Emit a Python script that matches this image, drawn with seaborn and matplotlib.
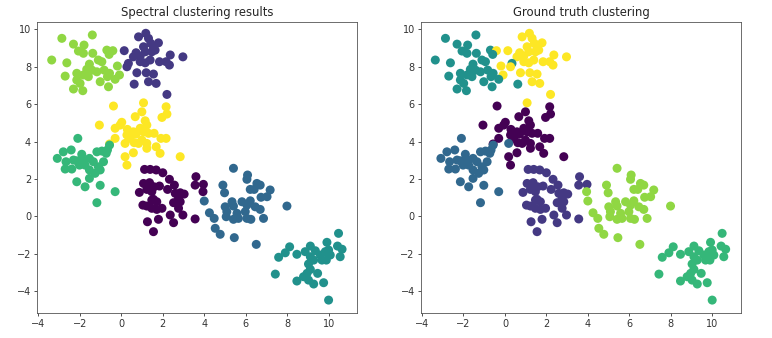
import matplotlib
matplotlib.use("Agg")
import matplotlib.pyplot as plt
import seaborn as sns
import pandas as pd
import numpy as np

# ---- data ----
# cluster found at top-left
c_tl_x = [-2.87,-1.40,-2.31,-1.80,-2.07,-1.83,-1.38,-0.70,-0.41,-0.59,-3.36,-2.63,-1.54,-1.11,-0.94,-0.19,-1.67,
          -1.42,-2.15,-1.83,-1.18,-0.83,-0.57,-0.09,-2.71,-2.15,-1.59,-1.02,-0.67,-0.30,-2.31,-1.86,-0.62,-1.99]
c_tl_y = [9.52,9.70,9.21,9.16,8.84,8.72,8.72,8.89,8.86,8.66,8.36,8.21,8.14,8.36,8.27,8.04,7.86,
          7.82,7.65,7.56,7.73,7.82,7.65,7.56,7.50,7.29,7.47,7.20,7.47,7.33,6.81,6.72,6.93,7.11]
c_tl_true = [3,3,3,3,3,3,3,3,6,3,3,3,3,3,3,6,3,3,3,3,3,3,3,6,3,3,3,3,3,3,3,3,3,3]

# cluster at top-centre
c_tc_x = [0.83,1.18,1.31,1.79,1.42,1.07,1.55,0.14,0.71,0.58,0.91,1.15,1.47,1.63,2.36,2.97,0.34,0.27,0.91,1.15,
          1.39,1.84,2.16,2.32,0.75,1.20,1.55,0.62,1.31,1.68,2.20]
c_tc_y = [9.60,9.79,9.52,9.28,9.25,9.07,8.98,8.86,8.75,8.53,8.57,8.80,8.80,8.89,8.63,8.53,8.18,8.00,8.27,8.21,
          8.36,8.27,8.27,8.09,7.68,7.68,7.61,7.07,7.20,7.11,6.52]
c_tc_true = [6,6,6,6,6,6,6,6,6,6,6,6,6,6,6,6,3,6,6,6,6,6,6,6,6,6,6,3,6,6,6]

# cluster in the middle
c_md_x = [-0.38,1.07,2.16,0.99,2.20,1.96,0.67,0.02,-0.06,-1.06,1.15,1.23,0.91,0.29,-0.30,0.58,0.71,1.07,1.31,
          1.58,0.27,0.42,0.18,-0.30,-0.57,0.99,1.23,0.62,0.83,1.23,1.68,1.91,2.16,0.58,1.87,0.18,0.27,2.84]
c_md_y = [5.90,6.07,5.86,5.59,5.47,5.29,5.33,5.03,4.88,4.88,5.11,4.88,4.71,4.65,4.71,4.52,4.40,4.52,4.44,
          4.44,4.35,4.17,3.90,4.17,3.87,4.08,3.90,3.94,3.90,3.64,3.72,4.17,4.17,3.40,3.37,3.19,2.74,3.19]
c_md_true = [0,6,0,0,0,0,0,0,0,0,0,0,0,0,0,0,0,0,0,0,0,0,2,0,0,0,0,0,0,0,0,0,0,0,0,0,0,0]

# cluster at left
c_lf_x = [-3.09,-2.80,-2.42,-2.10,-2.67,-2.71,-2.39,-2.15,-2.02,-1.91,-1.83,-1.75,-1.54,-1.54,-1.35,-1.18,
          -1.11,-1.02,-0.94,-0.73,-0.67,-0.57,-0.86,-1.54,-2.15,-1.75,-1.02,-0.30,-1.18,-2.31,-1.27]
c_lf_y = [3.10,3.45,3.55,4.17,2.92,2.53,2.53,2.97,2.74,3.32,3.01,2.74,3.10,2.48,2.92,3.45,
          2.65,2.48,3.49,3.37,3.55,3.81,2.92,2.03,1.85,1.58,1.66,1.32,0.73,3.01,2.30]
c_lf_true = [2]*0 + [2,2,2,2,2,2,2,2,2,2,2,2,2,2,2,2,2,2,2,2,2,2,2,2,2,2,2,2,2,2,2]

# cluster at bottom-centre
c_bc_x = [1.12,1.39,1.68,2.00,2.32,2.56,1.07,1.36,1.58,1.84,2.23,0.87,1.23,1.47,2.60,2.84,3.03,2.76,1.55,1.71,
          1.47,2.52,2.84,1.04,1.23,1.47,1.71,1.96,2.76,2.36,2.97,1.26,1.79,2.52,1.55,3.60,3.56,3.96,3.56,3.94]
c_bc_y = [2.51,2.51,2.48,2.33,1.98,1.67,1.76,1.80,1.58,1.62,1.44,1.28,1.44,1.32,1.23,1.26,1.19,0.96,0.91,0.78,
          0.87,0.73,0.78,0.60,0.55,0.43,0.37,0.43,0.43,0.07,0.07,-0.29,-0.16,-0.34,-0.82,2.12,1.67,1.71,-0.14,1.32]
c_bc_true = [1,1,1,1,1,1,1,1,1,1,1,1,1,1,1,1,1,1,1,1,1,1,1,1,1,1,1,1,1,1,1,1,1,1,1,1,1,1,1,5]

# cluster at right-middle
c_rm_x = [5.41,6.09,6.06,6.54,6.70,4.90,6.22,6.41,7.18,4.98,7.03,6.74,4.00,5.34,5.82,6.22,5.01,5.41,6.06,
          6.46,6.70,7.99,4.25,5.09,5.58,5.98,4.48,5.06,5.41,5.65,6.06,6.25,6.86,4.53,4.77,5.45,6.51]
c_rm_y = [2.57,2.21,1.98,1.76,1.67,1.67,1.44,1.44,1.41,1.26,1.05,1.02,0.82,0.78,0.78,0.83,0.51,0.55,0.60,
          0.51,0.37,0.55,0.19,0.25,0.16,0.25,-0.11,-0.02,-0.16,-0.11,-0.11,-0.16,-0.11,-0.64,-0.96,-1.14,-1.50]
c_rm_true = [5,5,5,5,5,5,5,5,5,5,5,5,5,5,5,5,5,5,5,5,5,5,5,5,5,5,5,5,5,5,5,5,5,5,5,5,5]

# cluster at bottom-right
c_br_x = [10.48,9.92,8.12,7.91,7.59,8.47,8.87,9.12,9.36,9.60,9.12,9.28,9.84,10.00,10.43,10.65,10.56,9.68,9.89,
          10.08,9.03,9.12,8.96,8.79,9.03,9.28,9.47,9.76,8.47,7.43,10.00]
c_br_y = [-0.91,-1.39,-1.63,-1.95,-2.19,-2.03,-1.89,-1.59,-1.84,-2.07,-2.16,-2.34,-1.89,-1.80,-1.59,-1.76,-2.16,
          -2.34,-2.34,-2.07,-2.55,-2.84,-3.05,-3.23,-3.41,-3.62,-3.05,-3.55,-3.46,-3.09,-4.48]
c_br_true = [4,4,4,4,4,4,4,4,4,4,4,4,4,4,4,4,4,4,4,4,4,4,4,4,4,4,4,4,4,4,4]

# spectral label assigned to each found cluster
spectral_ids = {"tl": 5, "tc": 1, "md": 6, "lf": 4, "bc": 0, "rm": 2, "br": 3}
titles = ["Spectral clustering results", "Ground truth clustering"]

clusters = {
    "tl": (c_tl_x, c_tl_y, c_tl_true),
    "tc": (c_tc_x, c_tc_y, c_tc_true),
    "md": (c_md_x, c_md_y, c_md_true),
    "lf": (c_lf_x, c_lf_y, c_lf_true),
    "bc": (c_bc_x, c_bc_y, c_bc_true),
    "rm": (c_rm_x, c_rm_y, c_rm_true),
    "br": (c_br_x, c_br_y, c_br_true),
}
rows = []
for key, (xs, ys, ts) in clusters.items():
    for xv, yv, tv in zip(xs, ys, ts):
        rows.append({"x": xv, "y": yv, "spectral": spectral_ids[key], "truth": tv})
df = pd.DataFrame(rows)

# ---- style ----
sns.set_style("ticks")
plt.rcParams["font.family"] = ["DejaVu Sans"]
cmap = plt.get_cmap("viridis")
palette = {k: cmap(k / 6) for k in range(7)}

fig = plt.figure(figsize=(7.72, 3.38), dpi=100)
ax1 = fig.add_axes([37.4 / 772, 25 / 338, 320 / 772, 291.3 / 338])
ax2 = fig.add_axes([421 / 772, 25 / 338, 320 / 772, 291.3 / 338])

for ax, col, title in zip([ax1, ax2], ["spectral", "truth"], titles):
    sns.scatterplot(data=df, x="x", y="y", hue=col, palette=palette, s=42,
                    linewidth=0, legend=False, ax=ax)
    ax.set_xlim(-4.05, 11.39)
    ax.set_ylim(-5.17, 10.41)
    ax.set_xticks([-4, -2, 0, 2, 4, 6, 8, 10])
    ax.set_yticks([-4, -2, 0, 2, 4, 6, 8, 10])
    ax.set_xlabel("")
    ax.set_ylabel("")
    ax.set_title(title, fontsize=8.4, pad=4)
    ax.tick_params(labelsize=7, length=2.5, width=0.6, pad=2, colors="#333333")
    for sp in ax.spines.values():
        sp.set_linewidth(0.6)
        sp.set_color("#555555")

fig.savefig("out.png", dpi=100, facecolor="white")
